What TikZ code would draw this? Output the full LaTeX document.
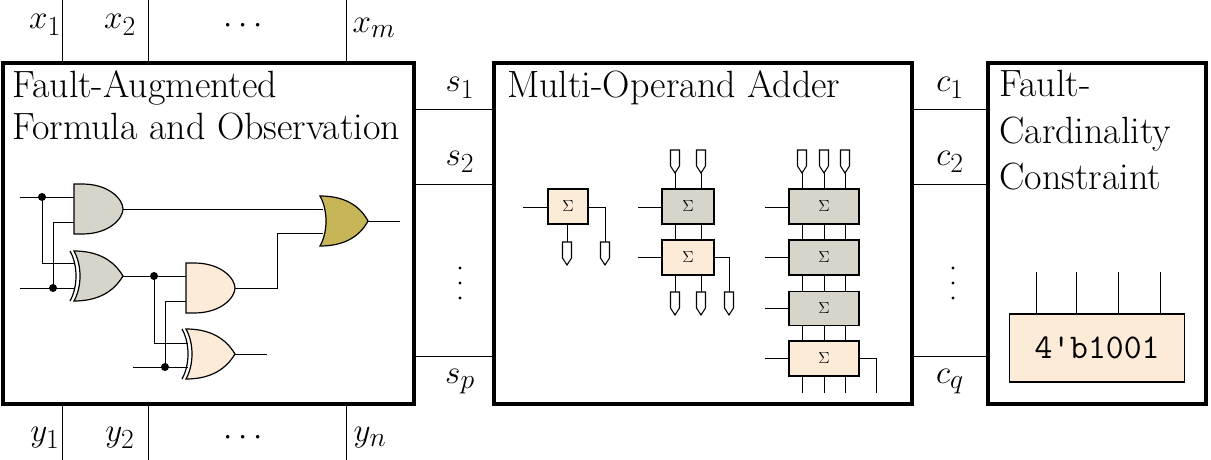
\documentclass[tikz,border=0pt]{standalone}
\usepackage{amsmath}
\begin{document}
\definecolor{gg}{HTML}{D7D5CA}
\definecolor{bg}{HTML}{FCEBD7}
\definecolor{og}{HTML}{C6B658}
\begin{tikzpicture}[x=0.75pt,y=-0.75pt,
  box/.style={draw,line width=2.6pt},
  w/.style={line width=0.75pt},
  lbl/.style={font=\fontsize{28}{32}\selectfont,inner sep=0pt},
  txt/.style={font=\fontsize{28.5}{34}\selectfont,inner sep=0pt,anchor=north west,align=left},
  blk/.style={draw,line width=0.9pt},
  dot/.style={circle,fill,inner sep=0pt,minimum size=6pt},
  sdot/.style={circle,fill,inner sep=0pt,minimum size=2.6pt},
  andg/.pic={\path[draw,line width=0.9pt,fill=#1] (0,0) -- (8,0) .. controls (36,0) and (49,16) .. (49,25) .. controls (49,34) and (36,50) .. (8,50) -- (0,50) -- cycle;},
  org/.pic={\path[draw,line width=0.9pt,fill=#1] (0,0) .. controls (8,14) and (8,36) .. (0,50) .. controls (25,50) and (40,40) .. (48,25) .. controls (40,10) and (25,0) .. (0,0) -- cycle;},
  xorg/.pic={\path[draw,line width=0.9pt,fill=#1] (0,0) .. controls (8,14) and (8,36) .. (0,50) .. controls (25,50) and (40,40) .. (49,25) .. controls (40,10) and (25,0) .. (0,0) -- cycle;
     \draw[line width=0.9pt] (-4,0) .. controls (4,14) and (4,36) .. (-4,50);},
  pin/.pic={\path[draw,line width=0.8pt,fill=white] (-4.5,0) -- (4.5,0) -- (4.5,16) -- (0,23) -- (-4.5,16) -- cycle;}
]
\useasboundingbox (0,0) rectangle (1211,460);
% boxes
\draw[box] (3,63) rectangle (414,404);
\draw[box] (494,63) rectangle (912,404);
\draw[box] (988,63) rectangle (1206,404);
\node[txt] (t1) at (12,70) {Fault-Augmented\\[-2pt]Formula and Observation};
\node[txt] (t2) at (507,70) {Multi-Operand Adder};
\node[txt] (t3) at (999,70) {Fault-\\[1pt]Cardinality\\[1pt]Constraint};
% top/bottom ports
\foreach \x in {62,148,346}{\draw[w] (\x,0) -- (\x,63); \draw[w] (\x,404) -- (\x,460);}
\node[lbl] (x1) at (45,25) {$x_1$};
\node[lbl] (x2) at (120,25) {$x_2$};
\node[lbl] (xd) at (246,26) {$\cdots$};
\node[lbl] (xm) at (374,28) {$x_m$};
\node[lbl] (y1) at (45,438) {$y_1$};
\node[lbl] (y2) at (120,438) {$y_2$};
\node[lbl] (yd) at (246,438) {$\cdots$};
\node[lbl] (yn) at (370,438) {$y_n$};
% s and c
\foreach \y in {110,184,356}{\draw[w] (414,\y) -- (494,\y); \draw[w] (912,\y) -- (988,\y);}
\node[lbl] (s1) at (460,88) {$s_1$};
\node[lbl] (s2) at (460,162) {$s_2$};
\node[lbl] (sp) at (460,382) {$s_p$};
\node[lbl] (c1) at (950,88) {$c_1$};
\node[lbl] (c2) at (950,162) {$c_2$};
\node[lbl] (cq) at (950,382) {$c_q$};
\foreach \x in {460,953}{\foreach \y in {268,283,298}{\node[sdot] at (\x,\y) {};}}
% register
\node[draw,line width=0.9pt,fill=bg,minimum width=131pt,minimum height=51pt,font=\fontsize{26}{30}\selectfont\ttfamily] (reg) at (1097,348) {4\textquotesingle b1001};
\foreach \x in {1036,1076,1118,1160}{\draw[w] (\x,272) -- (\x,314);}
% circuit wires
\draw[w] (20,197) -- (74,197);
\draw[w] (42,197) -- (42,263) -- (74,263);
\draw[w] (20,288) -- (74,288);
\draw[w] (53,288) -- (53,222) -- (74,222);
\draw[w] (123,209) -- (323,209);
\draw[w] (123,276) -- (186,276);
\draw[w] (154,276) -- (154,343) -- (188,343);
\draw[w] (133,367) -- (188,367);
\draw[w] (165,367) -- (165,301) -- (186,301);
\draw[w] (235,288) -- (277,288) -- (277,233) -- (323,233);
\draw[w] (235,354) -- (267,354);
\draw[w] (368,221) -- (400,221);
\pic at (74,184) {andg=gg};
\pic at (74,251) {xorg=gg};
\pic at (186,263) {andg=bg};
\pic at (186,329) {xorg=bg};
\pic at (320,196) {org=og};
\foreach \p in {(42,197),(53,288),(154,276),(165,367)} \node[dot] at \p {};
% adder
\newcommand\sblk[5]{\node[blk,fill=#5,minimum width=#3*0.75pt,minimum height=#4*0.75pt,inner sep=0pt,font=\fontsize{13}{14}\selectfont] (#1) at #2 {$\Sigma$};}
\draw[w] (523,207) -- (548,207);
\draw[w] (588,207) -- (605,207) -- (605,242);
\draw[w] (567,224) -- (567,242);
\sblk{a1}{(568,206.5)}{40}{35}{bg}
\pic at (567,242) {pin}; \pic at (605,242) {pin};
\draw[w] (638,207) -- (662,207);
\draw[w] (638,257) -- (662,257);
\foreach \x in {675,701}{\draw[w] (\x,172) -- (\x,292); \pic at (\x,150) {pin}; \pic at (\x,292) {pin};}
\draw[w] (714,257) -- (729,257) -- (729,292);
\pic at (729,292) {pin};
\sblk{b1}{(688,206.5)}{52}{35}{gg}
\sblk{b2}{(688,257.5)}{52}{35}{bg}
\foreach \x in {802,824,845}{\draw[w] (\x,172) -- (\x,393); \pic at (\x,150) {pin};}
\foreach \y in {207,257,308,358}{\draw[w] (765,\y) -- (789,\y);}
\draw[w] (859,358) -- (876,358) -- (876,393);
\sblk{c1b}{(824,206.5)}{70}{35}{gg}
\sblk{c2b}{(824,257.5)}{70}{35}{gg}
\sblk{c3b}{(824,308.5)}{70}{34}{gg}
\sblk{c4b}{(824,358.5)}{70}{35}{bg}
\end{tikzpicture}
\end{document}
